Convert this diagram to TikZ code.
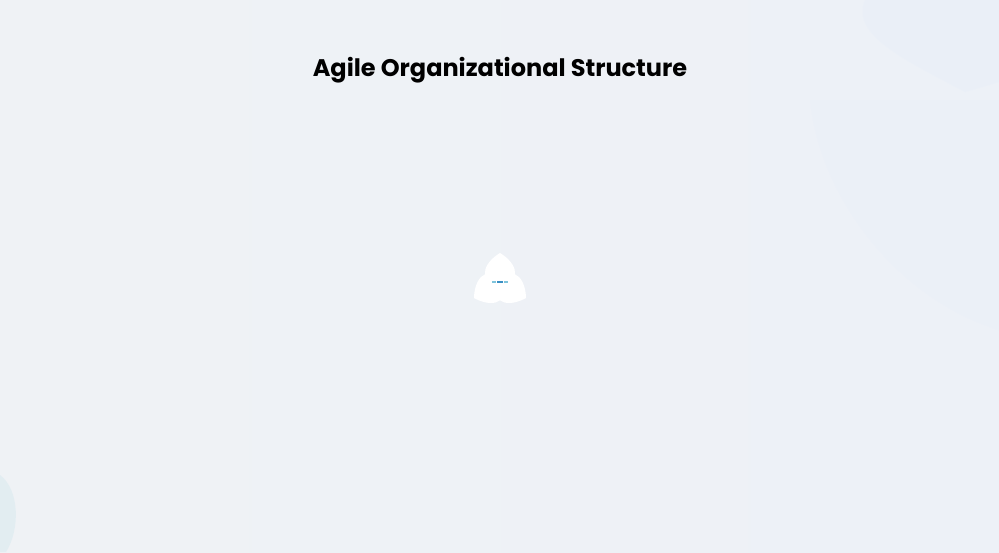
\documentclass[tikz,border=0pt]{standalone}
\usepackage{fontspec}
\setmainfont{Poppins}
\definecolor{bgA}{HTML}{EFF2F5}
\definecolor{bgB}{HTML}{EDF1F7}
\definecolor{bgC}{HTML}{E6EEF8}
\definecolor{tealish}{HTML}{D6E9EF}
\definecolor{dotA}{HTML}{7FC4DC}
\definecolor{dotB}{HTML}{3A8FC4}
\begin{document}
\begin{tikzpicture}[x=1pt,y=-1pt,
  petal/.style={fill=white,draw=none},
  titletext/.style={font=\bfseries\fontsize{24}{28}\selectfont,text=black,inner sep=0pt}]
\useasboundingbox (0,0) rectangle (999,552);
\shade[left color=bgA,right color=bgB] (0,0) rectangle (999,552);
% faint background shapes
\fill[bgC,opacity=0.35] (865,0) .. controls (850,35) and (905,60) .. (965,92) .. controls (980,88) and (999,82) .. (999,82) -- (999,0) -- cycle;
\fill[bgC,opacity=0.25] (810,100) .. controls (820,200) and (900,300) .. (999,330) -- (999,100) -- cycle;
\fill[tealish,opacity=0.5] (0,475) .. controls (20,490) and (20,530) .. (6,552) -- (0,552) -- cycle;
% title
\node[titletext] (title) at (500,70) {Agile Organizational Structure};
% trefoil
\coordinate (c) at (500,283);
\foreach \a in {0,120,240}{
  \fill[petal,rotate around={\a:(c)}] (500,288)
    .. controls (473,278) and (488,260) .. (500,253)
    .. controls (512,260) and (527,278) .. (500,288) -- cycle;
}
\node[circle,fill=white,minimum size=28pt,inner sep=0pt] (hub) at (c) {};
\fill[dotA] (492,281) rectangle (496,283);
\fill[dotB] (497,281) rectangle (503,283);
\fill[dotA] (504,281) rectangle (508,283);
\end{tikzpicture}
\end{document}
